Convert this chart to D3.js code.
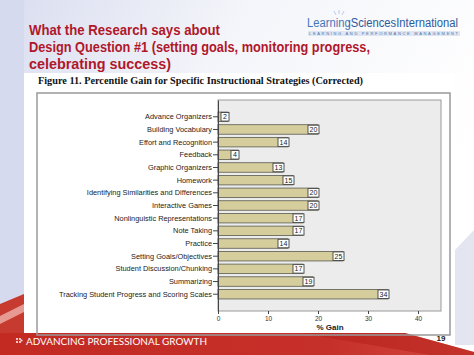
<!DOCTYPE html>
<html>
<head>
<meta charset="utf-8">
<script src="https://cdn.jsdelivr.net/npm/d3@7"></script>
<style>
  html, body { margin: 0; padding: 0; background: #fff; }
  svg { display: block; }
</style>
</head>
<body>
<div class="chart"></div>
<script>
// strategies and their percentile gain
const categories = [
    'Advance Organizers', 'Building Vocabulary', 'Effort and Recognition', 'Feedback',
    'Graphic Organizers', 'Homework', 'Identifying Similarities and Differences',
    'Interactive Games', 'Nonlinguistic Representations', 'Note Taking', 'Practice',
    'Setting Goals/Objectives', 'Student Discussion/Chunking', 'Summarizing',
    'Tracking Student Progress and Scoring Scales'
];
const gains = [2, 20, 14, 4, 13, 15, 20, 20, 17, 17, 14, 25, 17, 19, 34];
const xTicks = [0, 10, 20, 30, 40];
const titleLines = [
    'What the Research says about',
    'Design Question #1 (setting goals, monitoring progress,',
    'celebrating success)'
];

const width = 474, height = 355;
let svg = d3.select('.chart')
    .append('svg')
    .attr('width', width)
    .attr('height', height);

let defs = svg.append('defs');
let bg = defs.append('linearGradient')
    .attr('id', 'bg').attr('x1', 0).attr('y1', 0).attr('x2', 1).attr('y2', 0.4);
bg.append('stop').attr('offset', '0%').attr('stop-color', '#d9ddef');
bg.append('stop').attr('offset', '45%').attr('stop-color', '#f4f5fa');
bg.append('stop').attr('offset', '100%').attr('stop-color', '#ffffff');
let red = defs.append('linearGradient')
    .attr('id', 'red').attr('x1', 0).attr('y1', 0).attr('x2', 1).attr('y2', 0);
red.append('stop').attr('offset', '0%').attr('stop-color', '#c22a22');
red.append('stop').attr('offset', '70%').attr('stop-color', '#c6302a');
red.append('stop').attr('offset', '100%').attr('stop-color', '#d24a40');
let logoFill = defs.append('linearGradient')
    .attr('id', 'logoFill').attr('x1', 0).attr('y1', 0).attr('x2', 1).attr('y2', 0);
logoFill.append('stop').attr('offset', '0%').attr('stop-color', '#3f76b8');
logoFill.append('stop').attr('offset', '27%').attr('stop-color', '#3f76b8');
logoFill.append('stop').attr('offset', '27.5%').attr('stop-color', '#2a5b9c');
logoFill.append('stop').attr('offset', '100%').attr('stop-color', '#2a5b9c');

// slide background
svg.append('rect').attr('width', width).attr('height', height).attr('fill', 'url(#bg)');
svg.append('rect').attr('x', 0).attr('y', 0).attr('width', 24).attr('height', 305).attr('fill', '#d6daee');
svg.append('polygon').attr('points', '455,250 474,230 474,345 455,345').attr('fill', '#e3e6f0');
svg.append('polygon').attr('points', '0,304 24,294 24,340 0,340').attr('fill', '#c63a30');
svg.append('polygon').attr('points', '0,316 24,304 24,312 0,324').attr('fill', '#e79a92');
svg.append('polygon').attr('points', '0,333 405,333 474,352 474,355 0,355').attr('fill', 'url(#red)');
svg.append('polygon').attr('points', '300,333 405,333 474,352 474,355 430,355').attr('fill', '#b8231d').attr('opacity', 0.6);

// title
svg.append('g')
    .selectAll('text')
    .data(titleLines)
    .join('text')
    .attr('x', 29)
    .attr('y', (d, i) => 35 + i * 17)
    .attr('font-family', 'Liberation Sans, Arial, sans-serif')
    .attr('font-weight', 'bold')
    .attr('font-size', 14)
    .attr('fill', '#b0172a')
    .attr('textLength', (d, i) => [191, 341, 142][i])
    .attr('lengthAdjust', 'spacingAndGlyphs')
    .text(d => d);

// logo
let logo = svg.append('g')
    .attr('font-family', 'Liberation Sans, Arial, sans-serif')
    .attr('font-size', 12.5);
logo.append('text')
    .attr('x', 307).attr('y', 27)
    .attr('fill', 'url(#logoFill)')
    .attr('textLength', 151)
    .attr('lengthAdjust', 'spacingAndGlyphs')
    .text('LearningSciencesInternational');
logo.append('path')
    .attr('d', 'M336,15 L334,11 M339,14 L339,10 M342,15 L344,11')
    .attr('stroke', '#8fb0da').attr('stroke-width', 0.6);
logo.append('rect').attr('x', 308).attr('y', 31).attr('width', 152).attr('height', 5).attr('fill', '#dfe6f2');
logo.append('text')
    .attr('x', 309).attr('y', 35)
    .attr('font-size', 4)
    .attr('fill', '#4a74ac')
    .attr('textLength', 149)
    .attr('lengthAdjust', 'spacing')
    .text('LEARNING AND PERFORMANCE MANAGEMENT');

// figure image
svg.append('rect').attr('x', 24).attr('y', 73).attr('width', 431).attr('height', 260).attr('fill', '#ffffff');
svg.append('text')
    .attr('x', 38).attr('y', 84)
    .attr('font-family', 'Liberation Serif, Times New Roman, serif')
    .attr('font-weight', 'bold')
    .attr('font-size', 9.5)
    .attr('fill', '#111')
    .attr('textLength', 325)
    .attr('lengthAdjust', 'spacingAndGlyphs')
    .text('Figure 11. Percentile Gain for Specific Instructional Strategies (Corrected)');
svg.append('rect')
    .attr('x', 37).attr('y', 93).attr('width', 413).attr('height', 242)
    .attr('fill', 'none').attr('stroke', '#999').attr('stroke-width', 1.5);

// plot
let plot = { left: 218, top: 100, right: 441, bottom: 311 };
let x_scale = d3.scaleLinear()
    .domain([0, 44.6])
    .range([plot.left, plot.right]);
let y_scale = d3.scaleBand()
    .domain(categories)
    .range([plot.top, plot.bottom])
    .paddingInner(0.25)
    .paddingOuter(0.95);

svg.append('rect')
    .attr('x', plot.left).attr('y', plot.top)
    .attr('width', plot.right - plot.left).attr('height', plot.bottom - plot.top)
    .attr('fill', '#ececec').attr('stroke', '#9a9a9a').attr('stroke-width', 1);

let rows = svg.append('g')
    .selectAll('g')
    .data(categories.map((c, i) => ({ name: c, value: gains[i] })))
    .join('g');
rows.append('rect')
    .attr('x', x_scale(0))
    .attr('y', d => y_scale(d.name))
    .attr('width', d => x_scale(d.value) - x_scale(0))
    .attr('height', y_scale.bandwidth())
    .attr('fill', '#d6cd9c')
    .attr('stroke', '#5a5a50')
    .attr('stroke-width', 0.8);
let boxW = d => String(d.value).length > 1 ? 11 : 8;
rows.append('rect')
    .attr('x', d => x_scale(d.value) + 1 - boxW(d))
    .attr('y', d => y_scale(d.name) + 0.5)
    .attr('width', boxW)
    .attr('height', y_scale.bandwidth() - 1)
    .attr('fill', '#fff')
    .attr('stroke', '#444')
    .attr('stroke-width', 0.9);
rows.append('text')
    .attr('x', d => x_scale(d.value) + 1 - boxW(d) / 2)
    .attr('y', d => y_scale(d.name) + y_scale.bandwidth() / 2 + 2.4)
    .attr('text-anchor', 'middle')
    .attr('font-family', 'Liberation Sans, Arial, sans-serif')
    .attr('font-size', 7)
    .attr('fill', '#222')
    .text(d => d.value);

let y_Axis = d3.axisLeft(y_scale).tickSize(5).tickPadding(1).tickSizeOuter(0);
svg.append('g')
    .attr('transform', `translate(${plot.left}, 0)`)
    .call(y_Axis)
    .call(g => g.select('.domain').attr('stroke', '#444'))
    .call(g => g.selectAll('.tick line').attr('stroke', '#444'))
    .selectAll('text')
    .attr('font-family', 'Liberation Sans, Arial, sans-serif')
    .attr('font-size', 7.4)
    .attr('fill', '#222');

let x_Axis = d3.axisBottom(x_scale).tickValues(xTicks).tickSize(3).tickPadding(2).tickSizeOuter(0);
svg.append('g')
    .attr('transform', `translate(0, ${plot.bottom})`)
    .call(x_Axis)
    .call(g => g.select('.domain').remove())
    .call(g => g.selectAll('.tick line').attr('stroke', '#444'))
    .selectAll('text')
    .attr('font-family', 'Liberation Sans, Arial, sans-serif')
    .attr('font-size', 6.5)
    .attr('fill', '#333');

svg.append('text')
    .attr('x', 330).attr('y', 330)
    .attr('text-anchor', 'middle')
    .attr('font-family', 'Liberation Sans, Arial, sans-serif')
    .attr('font-weight', 'bold')
    .attr('font-size', 8)
    .attr('fill', '#222')
    .text('% Gain');

// footer
svg.append('text')
    .attr('x', 441).attr('y', 341)
    .attr('text-anchor', 'middle')
    .attr('font-family', 'Liberation Sans, Arial, sans-serif')
    .attr('font-weight', 'bold')
    .attr('font-size', 8)
    .attr('fill', '#222')
    .text('19');
svg.append('g')
    .selectAll('circle')
    .data([[17, 339], [20, 339], [17, 342], [20, 342], [21.5, 340.5]])
    .join('circle')
    .attr('cx', d => d[0]).attr('cy', d => d[1]).attr('r', 1.1)
    .attr('fill', '#fbe9e6');
svg.append('text')
    .attr('x', 26).attr('y', 344.5)
    .attr('font-family', 'Lato, Liberation Sans, sans-serif')
    .attr('font-size', 10)
    .attr('fill', '#fff')
    .attr('textLength', 181)
    .attr('lengthAdjust', 'spacingAndGlyphs')
    .text('ADVANCING PROFESSIONAL GROWTH');
</script>
</body>
</html>
